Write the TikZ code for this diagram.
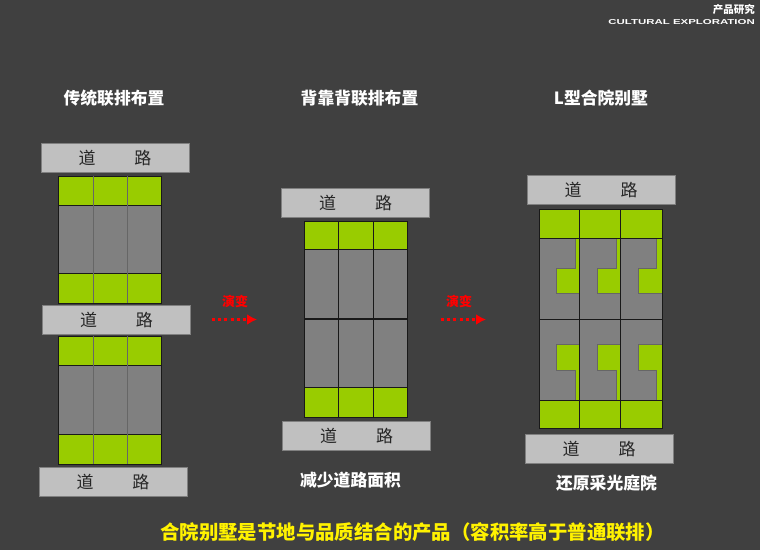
\documentclass[tikz,border=0pt]{standalone}
\usepackage{fontspec}
\setmainfont{Noto Sans CJK SC}
\newfontfamily\widefont[FakeStretch=1.6]{Liberation Sans}
\usetikzlibrary{arrows.meta}
\definecolor{bgdark}{HTML}{404040}
\definecolor{roadgray}{HTML}{C0C0C0}
\definecolor{roadedge}{HTML}{808080}
\definecolor{housegray}{HTML}{808080}
\definecolor{yardgreen}{HTML}{99CC00}
\tikzset{
	road/.style={draw=roadedge, line width=0.8pt, fill=roadgray, minimum width=148pt, minimum height=29pt, inner sep=0pt, text=black!85, font=\fontsize{17}{17}\selectfont},
	title/.style={text=white, font=\fontsize{16.8}{17}\selectfont\bfseries, inner sep=0pt},
	yard/.style={fill=yardgreen},
	house/.style={fill=housegray},
	wall/.style={draw=black!90, line width=0.9pt},
	courtedge/.style={draw=black!60, line width=0.8pt, fill=yardgreen},
	change/.style={text=red, font=\fontsize{13}{13}\selectfont\bfseries, inner sep=0pt},
	flow/.style={draw=red, line width=3.2pt, dash pattern=on 3pt off 3.2pt, -{Latex[length=10pt,width=11pt]}}
}
\newcommand{\roadtext}{道\hspace{39pt}路}
\begin{document}
\begin{tikzpicture}[x=1pt, y=-1pt]
	\fill[bgdark] (0,0) rectangle (760,550);
	\useasboundingbox (0,0) rectangle (760,550);

	% 1. 页眉
	\node[text=white, font=\fontsize{10.5}{11}\selectfont\bfseries, anchor=east, inner sep=0pt] (header) at (755,10) {产品研究};
	\node[text=white, font=\widefont\fontsize{7.15}{9}\selectfont\bfseries, anchor=east, inner sep=0pt] (headeren) at (755,22.5) {CULTURAL EXPLORATION};

	% 2. 标题
	\node[title] (titleA) at (114,98) {传统联排布置};
	\node[title] (titleB) at (359.5,98) {背靠背联排布置};
	\node[title] (titleC) at (601,98) {L型合院别墅};

	% 3. 左列：传统联排
	\node[road] (roadA) at (115,157.5) {\roadtext};
	\node[road] (roadB) at (116.5,320) {\roadtext};
	\node[road] (roadC) at (113,482) {\roadtext};
	\foreach \top/\a/\b/\bot in {176/205/273/303, 336/365/434/464} {
		\fill[yard] (58.5,\top) rectangle (161.5,\a);
		\fill[house] (58.5,\a) rectangle (161.5,\b);
		\fill[yard] (58.5,\b) rectangle (161.5,\bot);
		\draw[wall] (58.5,\top) rectangle (161.5,\bot);
		\draw[wall] (58.5,\a) -- (161.5,\a);
		\draw[wall] (58.5,\b) -- (161.5,\b);
		\draw[wall, black!60] (93,\top) -- (93,\bot);
		\draw[wall, black!60] (127,\top) -- (127,\bot);
	}

	% 4. 中列：背靠背
	\node[road] (roadD) at (355.5,203) {\roadtext};
	\node[road] (roadE) at (356.5,436) {\roadtext};
	\fill[yard] (304,221) rectangle (407,249);
	\fill[house] (304,249) rectangle (407,387);
	\fill[yard] (304,387) rectangle (407,417);
	\draw[wall] (304,221) rectangle (407,417);
	\draw[wall] (304,249) -- (407,249);
	\draw[wall, line width=1.3pt] (304,319) -- (407,319);
	\draw[wall] (304,387) -- (407,387);
	\draw[wall] (338,221) -- (338,417);
	\draw[wall] (373,221) -- (373,417);

	% 5. 右列：L型合院
	\node[road] (roadF) at (601,190) {\roadtext};
	\node[road] (roadG) at (599,449) {\roadtext};
	\fill[yard] (539.5,209.5) rectangle (662.5,238);
	\fill[house] (539.5,238) rectangle (662.5,400);
	\fill[yard] (539.5,400) rectangle (662.5,428);
	% 庭院：上下各三个
	\foreach \l/\s/\r in {556.5/575/579.5, 597.5/616/620.5, 638/656.5/662.5} {
		\draw[courtedge] (\s,238) -- (\s,268) -- (\l,268) -- (\l,293.5) -- (\r,293.5) -- (\r,238) -- cycle;
		\draw[courtedge] (\s,400) -- (\s,370) -- (\l,370) -- (\l,344.5) -- (\r,344.5) -- (\r,400) -- cycle;
	}
	\draw[wall] (539.5,209.5) rectangle (662.5,428);
	\draw[wall] (539.5,238) -- (662.5,238);
	\draw[wall] (539.5,319.5) -- (662.5,319.5);
	\draw[wall] (539.5,400) -- (662.5,400);
	\draw[wall] (579.5,209.5) -- (579.5,428);
	\draw[wall] (620.5,209.5) -- (620.5,428);

	% 6. 演变箭头
	\node[change] (changeA) at (235,301) {演变};
	\node[change] (changeB) at (459,301) {演变};
	\coordinate (flowAs) at (212,319.5);
	\coordinate (flowAe) at (257,319.5);
	\coordinate (flowBs) at (441,319.5);
	\coordinate (flowBe) at (486,319.5);
	\draw[flow] (flowAs) -- (flowAe);
	\draw[flow] (flowBs) -- (flowBe);

	% 7. 说明文字
	\node[title] (noteB) at (350.5,480) {减少道路面积};
	\node[title] (noteC) at (606.5,483) {还原采光庭院};
	\node[text=yellow, font=\fontsize{19.4}{20}\selectfont\bfseries, inner sep=0pt] (summary) at (412.5,532) {合院别墅是节地与品质结合的产品（容积率高于普通联排）};
\end{tikzpicture}
\end{document}
